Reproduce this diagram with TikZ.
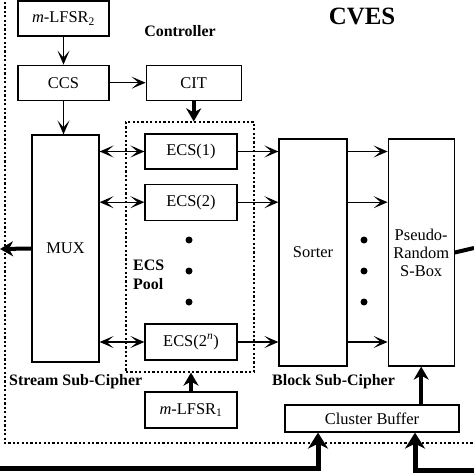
\documentclass[tikz,border=0pt]{standalone}
\usepackage{fontspec}
\setmainfont{Liberation Serif}
\usetikzlibrary{%
    arrows.meta,
    positioning
}
\tikzset{block/.style = {draw, line width=1.2bp, inner sep=0pt, font=\fontsize{16.5}{18}\selectfont}}
\tikzset{poolframe/.style = {draw, line width=1.2bp, dash pattern=on 2.2bp off 2.2bp, inner sep=0pt}}
\tikzset{caption/.style = {inner sep=0pt, font=\fontsize{16}{19}\selectfont\bfseries}}
\tikzset{flow/.style = {line width=1.2bp, -{Stealth[length=14bp, width=12bp, inset=7bp]}}}
\tikzset{both/.style = {line width=1.2bp, {Stealth[length=14bp, width=12bp, inset=7bp]}-{Stealth[length=14bp, width=12bp, inset=7bp]}}}
\tikzset{feed/.style = {line width=4bp, -{Stealth[length=13bp, width=15bp, inset=4bp]}}}
\tikzset{bus/.style = {line width=5bp, -{Stealth[length=16bp, width=20bp, inset=5bp]}}}

\begin{document}
\begin{tikzpicture}[x=1bp, y=-1bp]
    \useasboundingbox (0,0) rectangle (474,474);
    \clip (0,0) rectangle (474,474);

    % outer frame of the cipher
    \draw[line width=1.2bp, dash pattern=on 2.2bp off 2.2bp] (5,-20) rectangle (490,443);
    \node[font=\fontsize{25}{28}\selectfont\bfseries] (cves) at (362,16) {CVES};
    \node[caption] (ctrl) at (180,31) {Controller};

    % controller
    \node[block, minimum width=91bp, minimum height=35bp] (lfsrtwo) at (63.5,18.5) {\textit{m}-LFSR\textsubscript{2}};
    \node[block, minimum width=91bp, minimum height=35bp, below=28bp of lfsrtwo] (ccs) {CCS};
    \node[block, minimum width=95bp, minimum height=35bp, right=36bp of ccs] (cit) {CIT};

    % stream sub-cipher
    \node[block, minimum width=67bp, minimum height=227bp] (mux) at (65.5,248.5) {MUX};
    \node[poolframe, minimum width=128bp, minimum height=250bp] (pool) at (190,247) {};
    \node[block, minimum width=92bp, minimum height=35bp] (ecs1) at (191,151.5) {ECS(1)};
    \node[block, minimum width=92bp, minimum height=36bp, below=14bp of ecs1] (ecs2) {ECS(2)};
    \node[block, minimum width=92bp, minimum height=36bp] (ecsn) at (191,342) {ECS(2\textsuperscript{\textit{n}})};
    \node[caption, align=left, anchor=west] (poolname) at (133,275) {ECS\\Pool};
    \node[block, minimum width=92bp, minimum height=36bp] (lfsrone) at (191,410) {\textit{m}-LFSR\textsubscript{1}};
    \node[caption, anchor=west] (stream) at (9,382) {Stream Sub-Cipher};

    % block sub-cipher
    \node[block, minimum width=68bp, minimum height=227bp] (sorter) at (313,252.5) {Sorter};
    \node[block, minimum width=66bp, minimum height=227bp, align=center, right=40bp of sorter] (sbox) {Pseudo-\\Random\\S-Box};
    \node[block, minimum width=174bp, minimum height=27bp] (buffer) at (372,418.5) {Cluster Buffer};
    \node[caption, anchor=west] (blockname) at (272,382) {Block Sub-Cipher};

    \foreach \y in {240,271,302} {
        \fill (189,\y) circle (3.5bp);
        \fill (364,\y) circle (3.5bp);
    }

    \coordinate (muxout) at (0,249);
    \coordinate (sboxout) at (474,248);
    \coordinate (inleft) at (0,468);
    \coordinate (inright) at (474,470);

    \draw[flow] (lfsrtwo) -- (ccs);
    \draw[flow] (ccs) -- (cit);
    \draw[flow] (ccs.south) -- (ccs.south |- mux.north);
    \draw[feed] (cit.south) -- (cit.south |- pool.north);
    \draw[feed] (lfsrone.north) -- (lfsrone.north |- pool.south);

    \foreach \Ecs in {ecs1, ecs2, ecsn} {
        \draw[both] (mux.east |- \Ecs.west) -- (\Ecs.west);
        \draw[flow] (\Ecs.east) -- (\Ecs.east -| sorter.west);
        \draw[flow] (sorter.east |- \Ecs.east) -- (sbox.west |- \Ecs.east);
    }

    \draw[feed] (mux.west) -- (muxout);
    \draw[line width=4bp] (sbox.east) -- (sboxout);
    \draw[feed] (buffer.north -| sbox) -- (sbox.south);
    \draw[bus] (inleft) -| ([xshift=-54bp]buffer.south);
    \draw[bus] (inright) -| ([xshift=43bp]buffer.south);
\end{tikzpicture}
\end{document}
